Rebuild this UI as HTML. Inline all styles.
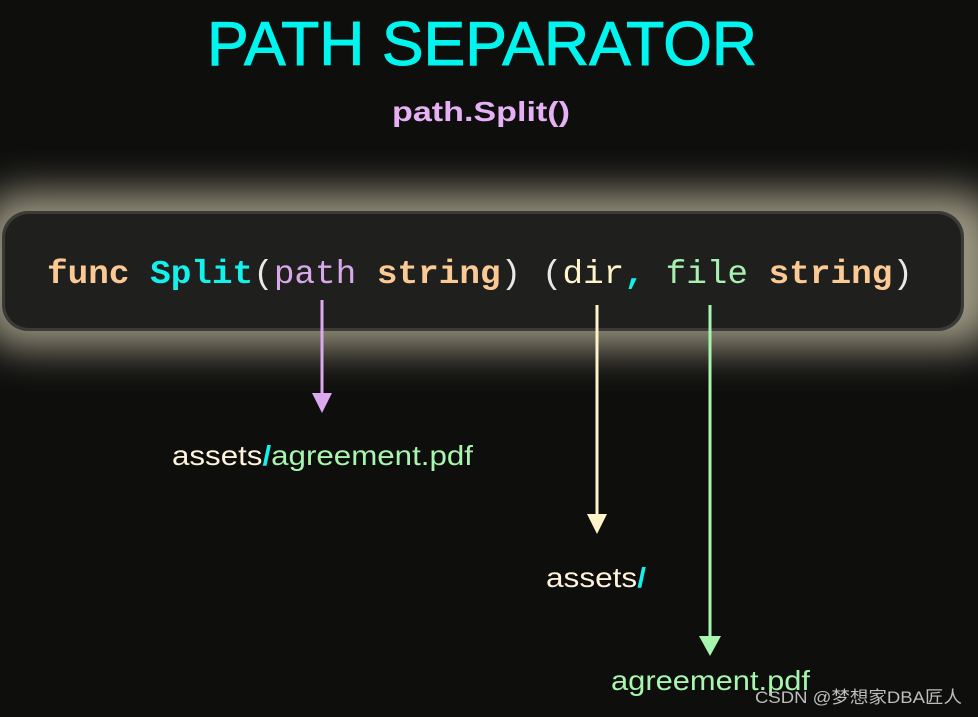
<!DOCTYPE html>
<html><head><meta charset="utf-8"><style>
html,body{margin:0;padding:0;background:#0e0e0d;}
svg{display:block}
</style></head><body>
<svg width="978" height="717" viewBox="0 0 978 717" xmlns="http://www.w3.org/2000/svg">
<defs>
<filter id="glow" x="-20%" y="-80%" width="140%" height="260%"><feGaussianBlur stdDeviation="20"/></filter>
</defs>
<rect width="978" height="717" fill="#0e0e0d"/>
<rect x="-20" y="192" width="1020" height="156" rx="40" fill="#9a9580" filter="url(#glow)"/>
<rect x="2" y="211" width="962" height="120" rx="26" fill="#3a3a37"/>
<rect x="5" y="214" width="956" height="114" rx="24" fill="#1f1f1e"/>
<text x="207" y="65" font-family="Liberation Sans, sans-serif" font-size="62" fill="#00f5ee" stroke="#00f5ee" stroke-width="1" textLength="550" lengthAdjust="spacingAndGlyphs">PATH SEPARATOR</text>
<text x="392" y="121" font-family="Liberation Sans, sans-serif" font-size="28" font-weight="bold" fill="#e6b0f5" textLength="178" lengthAdjust="spacingAndGlyphs">path.Split()</text>
<text x="47" y="283" font-family="Liberation Mono, monospace" font-size="33" textLength="866" lengthAdjust="spacingAndGlyphs" xml:space="preserve"><tspan fill="#fbc994" font-weight="bold">func</tspan> <tspan fill="#14f0ea" font-weight="bold">Split</tspan><tspan fill="#e8e8e8">(</tspan><tspan fill="#d8a8e8">path</tspan> <tspan fill="#fbc994" font-weight="bold">string</tspan><tspan fill="#e8e8e8">) (</tspan><tspan fill="#fff3cc">dir</tspan><tspan fill="#14f0ea" font-weight="bold">,</tspan> <tspan fill="#a8f0b0">file</tspan> <tspan fill="#fbc994" font-weight="bold">string</tspan><tspan fill="#e8e8e8">)</tspan></text>
<line x1="322" y1="300" x2="322" y2="398" stroke="#dca8ee" stroke-width="3"/>
<polygon points="312,393 332,393 322,413" fill="#dca8ee"/>
<line x1="597" y1="305" x2="597" y2="518" stroke="#fff3c8" stroke-width="3"/>
<polygon points="587,514 607,514 597,534" fill="#fff3c8"/>
<line x1="710" y1="305" x2="710" y2="640" stroke="#a8f5b0" stroke-width="3"/>
<polygon points="699,636 721,636 710,656" fill="#a8f5b0"/>
<text x="172" y="465" font-family="Liberation Sans, sans-serif" font-size="28" textLength="301" lengthAdjust="spacingAndGlyphs"><tspan fill="#fff3dc">assets</tspan><tspan fill="#14f0ea" font-weight="bold">/</tspan><tspan fill="#a8f5b0">agreement.pdf</tspan></text>
<text x="546" y="587" font-family="Liberation Sans, sans-serif" font-size="28" textLength="100" lengthAdjust="spacingAndGlyphs"><tspan fill="#fff3dc">assets</tspan><tspan fill="#14f0ea" font-weight="bold">/</tspan></text>
<text x="611" y="690" font-family="Liberation Sans, sans-serif" font-size="28" fill="#a8f5b0" textLength="199" lengthAdjust="spacingAndGlyphs">agreement.pdf</text>
<text x="755" y="703" font-family="Liberation Sans, 'Noto Sans CJK SC', sans-serif" font-size="17" fill="#bdbdbd" textLength="207" lengthAdjust="spacingAndGlyphs">CSDN @梦想家DBA匠人</text>
</svg>
</body></html>
